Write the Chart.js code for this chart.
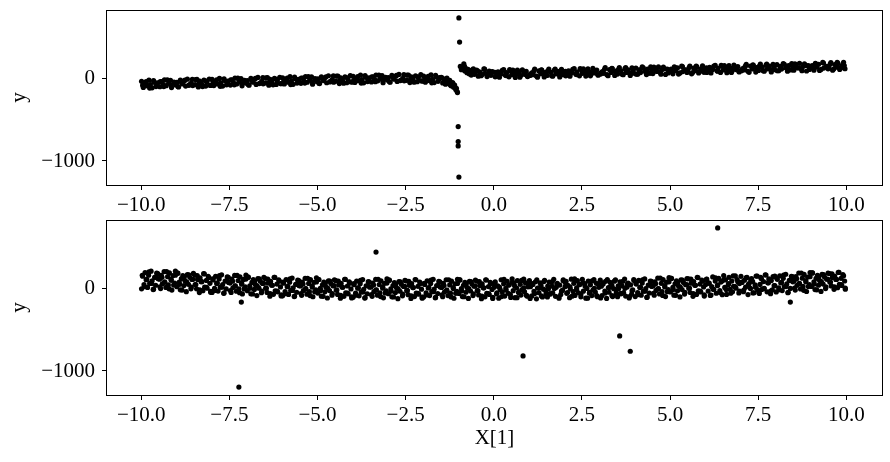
<!DOCTYPE html>
<html><head><meta charset="utf-8">
<script src="https://cdn.jsdelivr.net/npm/chart.js@4"></script>
<style>
html,body{margin:0;padding:0;background:#fff;}
#wrap{position:relative;width:890px;height:462px;overflow:hidden;}
#c1{position:absolute;left:0;top:0;}
#c2{position:absolute;left:0;top:210px;}
</style></head><body>
<div id="wrap"><canvas id="c1" width="890" height="250"></canvas><canvas id="c2" width="890" height="252"></canvas></div>
<script>
// ---------- data ----------
const xTicks = [-10, -7.5, -5, -2.5, 0, 2.5, 5, 7.5, 10];
const xTickLabels = ['\u221210.0','\u22127.5','\u22125.0','\u22122.5','0.0','2.5','5.0','7.5','10.0'];
const yTicks = [-1000, 0];
const yTickLabels = ['\u22121000', '0'];
const xTitles = ['X[0]', 'X[1]'];
const yTitle = 'y';

// top panel: y against X[0]
const topX = [
-9.99,-9.94,-9.89,-9.83,-9.78,-9.74,-9.69,-9.63,-9.58,-9.54,
-9.47,-9.42,-9.38,-9.34,-9.29,-9.22,-9.17,-9.14,-9.07,-9.02,
-8.99,-8.94,-8.89,-8.83,-8.78,-8.74,-8.69,-8.63,-8.58,-8.54,
-8.47,-8.42,-8.38,-8.34,-8.29,-8.22,-8.17,-8.14,-8.07,-8.02,
-7.99,-7.94,-7.89,-7.83,-7.78,-7.74,-7.69,-7.63,-7.58,-7.54,
-7.47,-7.42,-7.38,-7.34,-7.29,-7.22,-7.17,-7.14,-7.07,-7.02,
-6.99,-6.94,-6.89,-6.83,-6.78,-6.74,-6.69,-6.63,-6.58,-6.54,
-6.47,-6.42,-6.38,-6.34,-6.29,-6.22,-6.17,-6.14,-6.07,-6.02,
-5.99,-5.94,-5.89,-5.83,-5.78,-5.74,-5.69,-5.63,-5.58,-5.54,
-5.47,-5.42,-5.38,-5.34,-5.29,-5.22,-5.17,-5.14,-5.07,-5.02,
-4.99,-4.94,-4.89,-4.83,-4.78,-4.74,-4.69,-4.63,-4.58,-4.54,
-4.47,-4.42,-4.38,-4.34,-4.29,-4.22,-4.17,-4.14,-4.07,-4.02,
-3.99,-3.94,-3.89,-3.83,-3.78,-3.74,-3.69,-3.63,-3.58,-3.54,
-3.47,-3.42,-3.38,-3.34,-3.29,-3.22,-3.17,-3.14,-3.07,-3.02,
-2.99,-2.94,-2.89,-2.83,-2.78,-2.74,-2.69,-2.63,-2.58,-2.54,
-2.47,-2.42,-2.38,-2.34,-2.29,-2.22,-2.17,-2.14,-2.07,-2.02,
-1.99,-1.94,-1.89,-1.83,-1.78,-1.74,-1.69,-1.63,-1.58,-1.54,
-1.49,-1.45,-1.41,-1.37,-1.33,-1.29,-1.25,-1.21,-1.17,-1.14,-1.11,-1.08,-1.06,-1.04,-1.03,
-0.99,-0.97,-1.01,-1.01,-1.01,-0.99,
-0.95,-0.92,-0.88,-0.85,-0.82,-0.79,-0.76,-0.73,-0.70,-0.67,-0.64,-0.61,-0.58,-0.55,-0.52,
-0.49,-0.44,-0.39,-0.33,-0.28,-0.24,-0.19,-0.13,-0.08,-0.04,
0.03,0.08,0.12,0.16,0.21,0.28,0.33,0.36,0.43,0.48,
0.51,0.56,0.61,0.67,0.72,0.76,0.81,0.87,0.92,0.96,
1.03,1.08,1.12,1.16,1.21,1.28,1.33,1.36,1.43,1.48,
1.51,1.56,1.61,1.67,1.72,1.76,1.81,1.87,1.92,1.96,
2.03,2.08,2.12,2.16,2.21,2.28,2.33,2.36,2.43,2.48,
2.51,2.56,2.61,2.67,2.72,2.76,2.81,2.87,2.92,2.96,
3.03,3.08,3.12,3.16,3.21,3.28,3.33,3.36,3.43,3.48,
3.51,3.56,3.61,3.67,3.72,3.76,3.81,3.87,3.92,3.96,
4.03,4.08,4.12,4.16,4.21,4.28,4.33,4.36,4.43,4.48,
4.51,4.56,4.61,4.67,4.72,4.76,4.81,4.87,4.92,4.96,
5.03,5.08,5.12,5.16,5.21,5.28,5.33,5.36,5.43,5.48,
5.51,5.56,5.61,5.67,5.72,5.76,5.81,5.87,5.92,5.96,
6.03,6.08,6.12,6.16,6.21,6.28,6.33,6.36,6.43,6.48,
6.51,6.56,6.61,6.67,6.72,6.76,6.81,6.87,6.92,6.96,
7.03,7.08,7.12,7.16,7.21,7.28,7.33,7.36,7.43,7.48,
7.51,7.56,7.61,7.67,7.72,7.76,7.81,7.87,7.92,7.96,
8.03,8.08,8.12,8.16,8.21,8.28,8.33,8.36,8.43,8.48,
8.51,8.56,8.61,8.67,8.72,8.76,8.81,8.87,8.92,8.96,
9.03,9.08,9.12,9.16,9.21,9.28,9.33,9.36,9.43,9.48,
9.51,9.56,9.61,9.67,9.72,9.76,9.81,9.87,9.92,9.96
];
const topY = [
-30,-105,-55,-85,-17,-70,-110,-43,-95,-50,
-97,-34,-69,-14,-84,-54,-19,-107,-41,-74,
-42,-99,-16,-62,-26,-89,-4,-72,-51,-82,
-71,-7,-99,-29,-61,-16,-89,-41,-3,-81,
-8,-83,-33,-63,5,-48,-88,-21,-73,-28,
-76,-13,-48,7,-63,-33,2,-86,-20,-53,
-21,-78,5,-41,-5,-68,17,-51,-30,-61,
-50,14,-78,-8,-40,5,-68,-20,18,-60,
13,-62,-12,-42,26,-27,-67,0,-52,-7,
-55,8,-27,28,-42,-12,23,-65,1,-32,
-1,-58,25,-21,15,-48,37,-31,-10,-41,
-30,34,-58,12,-20,25,-48,0,38,-40,
31,-44,6,-24,44,-9,-49,18,-34,11,
-38,25,-10,45,-25,5,40,-48,18,-15,
15,-42,41,-5,31,-32,53,-15,6,-25,
-18,46,-46,24,-8,37,-36,12,50,-28,
34,-41,9,-21,47,-6,-46,21,-31,14,
17,-51,-5,-65,9,-58,-20,-85,-45,-103,-77,-130,-115,-155,-167,
740,447,-581,-764,-817,-1195,
150,110,140,183,95,125,75,115,60,100,45,90,120,55,80,
107,32,82,52,120,67,27,94,42,87,
79,34,86,19,59,112,44,74,24,99,
50,83,17,105,70,40,110,55,90,27,
40,71,50,118,33,96,60,106,23,80,
40,118,80,32,105,60,92,22,114,50,
91,46,98,31,71,124,56,86,36,111,
66,99,33,121,86,56,126,71,106,43,
57,88,67,135,50,113,77,123,40,97,
58,136,98,50,123,78,110,40,132,68,
131,56,106,76,144,91,51,118,66,111,
63,126,91,146,76,106,141,53,119,86,
118,61,144,98,134,71,156,88,109,78,
89,153,61,131,99,144,71,119,157,79,
132,87,139,72,112,165,97,127,77,152,
107,140,74,162,127,97,167,112,147,84,
99,130,109,177,92,155,119,165,82,139,
101,179,141,93,166,121,153,83,175,111,
173,98,148,118,186,133,93,160,108,153,
105,168,133,188,118,148,183,95,161,128,
161,104,187,141,177,114,199,131,152,121,
132,196,104,174,142,187,114,162,200,122
];
// more points of the same top band
const topX2 = [
-9.96,-9.86,-9.76,-9.65,-9.55, -9.46,-9.36,-9.26,-9.15,-9.05,
-8.96,-8.86,-8.76,-8.65,-8.55, -8.46,-8.36,-8.26,-8.15,-8.05,
-7.96,-7.86,-7.76,-7.65,-7.55, -7.46,-7.36,-7.26,-7.15,-7.05,
-6.96,-6.86,-6.76,-6.65,-6.55, -6.46,-6.36,-6.26,-6.15,-6.05,
-5.96,-5.86,-5.76,-5.65,-5.55, -5.46,-5.36,-5.26,-5.15,-5.05,
-4.96,-4.86,-4.76,-4.65,-4.55, -4.46,-4.36,-4.26,-4.15,-4.05,
-3.96,-3.86,-3.76,-3.65,-3.55, -3.46,-3.36,-3.26,-3.15,-3.05,
-2.96,-2.86,-2.76,-2.65,-2.55, -2.46,-2.36,-2.26,-2.15,-2.05,
-1.96,-1.86,-1.76,-1.65,-1.55, -1.47,-1.39,-1.31,-1.23,-1.16,
-0.90,-0.83,-0.77,-0.69,-0.62, -0.46,-0.36,-0.26,-0.15,-0.05,
0.04,0.14,0.24,0.35,0.45, 0.54,0.64,0.74,0.85,0.95,
1.04,1.14,1.24,1.35,1.45, 1.54,1.64,1.74,1.85,1.95,
2.04,2.14,2.24,2.35,2.45, 2.54,2.64,2.74,2.85,2.95,
3.04,3.14,3.24,3.35,3.45, 3.54,3.64,3.74,3.85,3.95,
4.04,4.14,4.24,4.35,4.45, 4.54,4.64,4.74,4.85,4.95,
5.04,5.14,5.24,5.35,5.45, 5.54,5.64,5.74,5.85,5.95,
6.04,6.14,6.24,6.35,6.45, 6.54,6.64,6.74,6.85,6.95,
7.04,7.14,7.24,7.35,7.45, 7.54,7.64,7.74,7.85,7.95,
8.04,8.14,8.24,8.35,8.45, 8.54,8.64,8.74,8.85,8.95,
9.04,9.14,9.24,9.35,9.45, 9.54,9.64,9.74,9.85,9.94
];
const topY2 = [
-77,-35,-113,-23,-65, -34,-94,-14,-79,-51,
-94,-42,-16,-79,-6, -9,-59,-94,-29,-79,
-55,-13,-91,-1,-43, -13,-73,7,-58,-30,
-73,-21,5,-58,15, 12,-38,-73,-8,-58,
-34,8,-70,20,-22, 8,-52,28,-37,-9,
-53,-1,25,-38,35, 32,-18,-53,12,-38,
-16,26,-52,38,-4, 25,-35,45,-20,8,
-37,15,41,-22,51, 44,-6,-41,24,-26,
-13,29,-49,41,-1, 11,-52,-13,-75,-55,
125,150,90,70,105, 97,37,117,52,80,
24,76,102,39,112, 105,55,20,85,35,
56,98,20,110,68, 97,37,117,52,80,
36,88,114,51,124, 121,71,36,101,51,
73,115,37,127,85, 115,55,135,70,98,
56,108,134,71,144, 141,91,56,121,71,
94,136,58,148,106, 136,76,156,91,119,
77,129,155,92,165, 162,112,77,142,92,
115,157,79,169,127, 158,98,178,113,141,
98,150,176,113,186, 183,133,98,163,113,
137,179,101,191,149, 179,119,199,134,162
];

// bottom panel: y against X[1]
const bottomX = [
-9.99,-9.96,-9.92,-9.89,-9.86,-9.82,-9.79,-9.76,-9.72,-9.69,-9.66,-9.62,-9.59,-9.56,-9.52,
-9.48,-9.45,-9.43,-9.40,-9.35,-9.33,-9.30,-9.25,-9.23,-9.20,-9.15,-9.13,-9.10,-9.05,-9.03,
-8.99,-8.96,-8.92,-8.89,-8.86,-8.82,-8.79,-8.76,-8.72,-8.69,-8.66,-8.62,-8.59,-8.56,-8.52,
-8.48,-8.45,-8.43,-8.40,-8.35,-8.33,-8.30,-8.25,-8.23,-8.20,-8.15,-8.13,-8.10,-8.05,-8.03,
-7.99,-7.96,-7.92,-7.89,-7.86,-7.82,-7.79,-7.76,-7.72,-7.69,-7.66,-7.62,-7.59,-7.56,-7.52,
-7.48,-7.45,-7.43,-7.40,-7.35,-7.33,-7.30,-7.25,-7.23,-7.20,-7.15,-7.13,-7.10,-7.05,-7.03,
-6.99,-6.96,-6.92,-6.89,-6.86,-6.82,-6.79,-6.76,-6.72,-6.69,-6.66,-6.62,-6.59,-6.56,-6.52,
-6.48,-6.45,-6.43,-6.40,-6.35,-6.33,-6.30,-6.25,-6.23,-6.20,-6.15,-6.13,-6.10,-6.05,-6.03,
-5.99,-5.96,-5.92,-5.89,-5.86,-5.82,-5.79,-5.76,-5.72,-5.69,-5.66,-5.62,-5.59,-5.56,-5.52,
-5.48,-5.45,-5.43,-5.40,-5.35,-5.33,-5.30,-5.25,-5.23,-5.20,-5.15,-5.13,-5.10,-5.05,-5.03,
-4.99,-4.96,-4.92,-4.89,-4.86,-4.82,-4.79,-4.76,-4.72,-4.69,-4.66,-4.62,-4.59,-4.56,-4.52,
-4.48,-4.45,-4.43,-4.40,-4.35,-4.33,-4.30,-4.25,-4.23,-4.20,-4.15,-4.13,-4.10,-4.05,-4.03,
-3.99,-3.96,-3.92,-3.89,-3.86,-3.82,-3.79,-3.76,-3.72,-3.69,-3.66,-3.62,-3.59,-3.56,-3.52,
-3.48,-3.45,-3.43,-3.40,-3.35,-3.33,-3.30,-3.25,-3.23,-3.20,-3.15,-3.13,-3.10,-3.05,-3.03,
-2.99,-2.96,-2.92,-2.89,-2.86,-2.82,-2.79,-2.76,-2.72,-2.69,-2.66,-2.62,-2.59,-2.56,-2.52,
-2.48,-2.45,-2.43,-2.40,-2.35,-2.33,-2.30,-2.25,-2.23,-2.20,-2.15,-2.13,-2.10,-2.05,-2.03,
-1.99,-1.96,-1.92,-1.89,-1.86,-1.82,-1.79,-1.76,-1.72,-1.69,-1.66,-1.62,-1.59,-1.56,-1.52,
-1.48,-1.45,-1.43,-1.40,-1.35,-1.33,-1.30,-1.25,-1.23,-1.20,-1.15,-1.13,-1.10,-1.05,-1.03,
-0.99,-0.96,-0.92,-0.89,-0.86,-0.82,-0.79,-0.76,-0.72,-0.69,-0.66,-0.62,-0.59,-0.56,-0.52,
-0.48,-0.45,-0.43,-0.40,-0.35,-0.33,-0.30,-0.25,-0.23,-0.20,-0.15,-0.13,-0.10,-0.05,-0.03,
0.01,0.04,0.08,0.11,0.14,0.18,0.21,0.24,0.28,0.31,0.34,0.38,0.41,0.44,0.48,
0.52,0.55,0.57,0.60,0.65,0.67,0.70,0.75,0.77,0.80,0.85,0.87,0.90,0.95,0.97,
1.01,1.04,1.08,1.11,1.14,1.18,1.21,1.24,1.28,1.31,1.34,1.38,1.41,1.44,1.48,
1.52,1.55,1.57,1.60,1.65,1.67,1.70,1.75,1.77,1.80,1.85,1.87,1.90,1.95,1.97,
2.02,2.05,2.07,2.10,2.15,2.17,2.20,2.25,2.27,2.30,2.35,2.37,2.40,2.45,2.47,
2.51,2.54,2.58,2.61,2.64,2.68,2.71,2.74,2.78,2.81,2.84,2.88,2.91,2.94,2.98,
3.02,3.05,3.07,3.10,3.15,3.17,3.20,3.25,3.27,3.30,3.35,3.37,3.40,3.45,3.47,
3.51,3.54,3.58,3.61,3.64,3.68,3.71,3.74,3.78,3.81,3.84,3.88,3.91,3.94,3.98,
4.01,4.04,4.08,4.11,4.14,4.18,4.21,4.24,4.28,4.31,4.34,4.38,4.41,4.44,4.48,
4.52,4.55,4.57,4.60,4.65,4.67,4.70,4.75,4.77,4.80,4.85,4.87,4.90,4.95,4.97,
5.01,5.04,5.08,5.11,5.14,5.18,5.21,5.24,5.28,5.31,5.34,5.38,5.41,5.44,5.48,
5.52,5.55,5.57,5.60,5.65,5.67,5.70,5.75,5.77,5.80,5.85,5.87,5.90,5.95,5.97,
6.01,6.04,6.08,6.11,6.14,6.18,6.21,6.24,6.28,6.31,6.34,6.38,6.41,6.44,6.48,
6.52,6.55,6.57,6.60,6.65,6.67,6.70,6.75,6.77,6.80,6.85,6.87,6.90,6.95,6.97,
7.01,7.04,7.08,7.11,7.14,7.18,7.21,7.24,7.28,7.31,7.34,7.38,7.41,7.44,7.48,
7.52,7.55,7.57,7.60,7.65,7.67,7.70,7.75,7.77,7.80,7.85,7.87,7.90,7.95,7.97,
8.01,8.04,8.08,8.11,8.14,8.18,8.21,8.24,8.28,8.31,8.34,8.38,8.41,8.44,8.48,
8.52,8.55,8.57,8.60,8.65,8.67,8.70,8.75,8.77,8.80,8.85,8.87,8.90,8.95,8.97,
9.01,9.04,9.08,9.11,9.14,9.18,9.21,9.24,9.28,9.31,9.34,9.38,9.41,9.44,9.48,
9.52,9.55,9.57,9.60,9.65,9.67,9.70,9.75,9.77,9.80,9.85,9.87,9.90,9.95,9.97,
-7.23,-7.16,-3.34,0.83,3.57,3.87,6.35,8.41
];
const bottomY = [
0,153,50,197,110,17,165,65,215,97,-10,140,43,190,123,
117,3,165,60,210,83,17,147,47,193,103,-15,161,70,215,
25,190,83,-13,125,160,40,97,-35,173,55,140,0,113,187,
167,52,0,114,-46,134,87,-23,184,20,102,7,152,67,-30,
-45,108,5,152,65,-28,120,20,170,52,-55,95,-2,145,78,
70,-44,118,13,163,36,-30,100,0,146,56,-62,114,23,168,
-23,142,35,-61,77,112,-8,49,-83,125,7,92,-48,65,139,
123,8,-44,70,-90,90,43,-67,140,-24,58,-37,108,23,-74,
-85,68,-35,112,25,-68,80,-20,130,12,-95,55,-42,105,38,
35,-79,83,-22,128,1,-65,65,-35,111,21,-97,79,-12,133,
-52,113,6,-90,48,83,-37,20,-112,96,-22,63,-77,36,110,
99,-16,-68,46,-114,66,19,-91,116,-48,34,-61,84,-1,-98,
-103,50,-53,94,7,-86,62,-38,112,-6,-113,37,-60,87,20,
22,-92,70,-35,115,-12,-78,52,-48,98,8,-110,66,-25,120,
-60,105,-2,-98,40,75,-45,12,-120,88,-30,55,-85,28,102,
95,-20,-72,42,-118,62,15,-95,112,-52,30,-65,80,-5,-102,
-100,53,-50,97,10,-83,65,-35,115,-3,-110,40,-57,90,23,
17,-97,65,-40,110,-17,-83,47,-53,93,3,-115,61,-30,115,
-57,108,1,-95,43,78,-42,15,-117,91,-27,58,-82,31,105,
92,-23,-75,39,-121,59,12,-98,109,-55,27,-68,77,-8,-105,
18,85,-62,35,-115,-8,110,-40,60,-88,5,92,-55,48,-105,
122,-23,68,-108,10,100,-46,54,-76,-10,117,-33,72,-90,24,
100,26,-87,53,-32,86,-122,10,-47,73,38,-100,-4,103,-62,
-99,-2,83,-62,33,-49,115,-92,18,65,-115,45,-69,-17,98,
25,92,-55,42,-108,-1,117,-33,67,-81,12,99,-48,55,-98,
116,-29,62,-114,4,94,-52,48,-82,-16,111,-39,66,-96,18,
105,31,-82,58,-27,91,-117,15,-42,78,43,-95,1,108,-57,
-96,1,86,-59,36,-46,118,-89,21,68,-112,48,-66,-14,101,
-95,58,-45,102,15,-78,70,-30,120,2,-105,45,-52,95,28,
37,-77,85,-20,130,3,-63,67,-33,113,23,-95,81,-10,135,
-39,126,19,-77,61,96,-24,33,-99,109,-9,76,-64,49,123,
122,7,-45,69,-91,89,42,-68,139,-25,57,-38,107,22,-75,
52,119,-28,69,-81,26,144,-6,94,-54,39,126,-21,82,-71,
162,17,108,-68,50,140,-6,94,-36,30,157,7,112,-50,64,
152,78,-35,105,20,138,-70,62,5,125,90,-48,48,155,-10,
-44,53,138,-7,88,6,170,-37,73,120,-60,100,-14,38,153,
-38,115,12,159,72,-21,127,27,177,59,-48,102,5,152,85,
99,-15,147,42,192,65,-1,129,29,175,85,-33,143,52,197,
28,193,86,-10,128,163,43,100,-32,176,58,143,3,116,190,
186,82,35,138,-6,156,114,14,201,53,127,41,172,95,8,
-1195,-162,447,-817,-573,-760,740,-162
];
// more points of the same bottom band
const bottomX2 = [
-9.97,-9.91,-9.84,-9.78,-9.71,-9.65,-9.58,-9.53, -9.47,-9.41,-9.34,-9.28,-9.21,-9.15,-9.08,-9.03,
-8.97,-8.91,-8.84,-8.78,-8.71,-8.65,-8.58,-8.53, -8.47,-8.41,-8.34,-8.28,-8.21,-8.15,-8.08,-8.03,
-7.97,-7.91,-7.84,-7.78,-7.71,-7.65,-7.58,-7.53, -7.47,-7.41,-7.34,-7.28,-7.21,-7.15,-7.08,-7.03,
-6.97,-6.91,-6.84,-6.78,-6.71,-6.65,-6.58,-6.53, -6.47,-6.41,-6.34,-6.28,-6.21,-6.15,-6.08,-6.03,
-5.97,-5.91,-5.84,-5.78,-5.71,-5.65,-5.58,-5.53, -5.47,-5.41,-5.34,-5.28,-5.21,-5.15,-5.08,-5.03,
-4.97,-4.91,-4.84,-4.78,-4.71,-4.65,-4.58,-4.53, -4.47,-4.41,-4.34,-4.28,-4.21,-4.15,-4.08,-4.03,
-3.97,-3.91,-3.84,-3.78,-3.71,-3.65,-3.58,-3.53, -3.47,-3.41,-3.34,-3.28,-3.21,-3.15,-3.08,-3.03,
-2.97,-2.91,-2.84,-2.78,-2.71,-2.65,-2.58,-2.53, -2.47,-2.41,-2.34,-2.28,-2.21,-2.15,-2.08,-2.03,
-1.97,-1.91,-1.84,-1.78,-1.71,-1.65,-1.58,-1.53, -1.47,-1.41,-1.34,-1.28,-1.21,-1.15,-1.08,-1.03,
-0.97,-0.91,-0.84,-0.78,-0.71,-0.65,-0.58,-0.53, -0.47,-0.41,-0.34,-0.28,-0.21,-0.15,-0.08,-0.03,
0.03,0.09,0.16,0.22,0.29,0.35,0.42,0.47, 0.53,0.59,0.66,0.72,0.79,0.85,0.92,0.97,
1.03,1.09,1.16,1.22,1.29,1.35,1.42,1.47, 1.53,1.59,1.66,1.72,1.79,1.85,1.92,1.97,
2.03,2.09,2.16,2.22,2.29,2.35,2.42,2.47, 2.53,2.59,2.66,2.72,2.79,2.85,2.92,2.97,
3.03,3.09,3.16,3.22,3.29,3.35,3.42,3.47, 3.53,3.59,3.66,3.72,3.79,3.85,3.92,3.97,
4.03,4.09,4.16,4.22,4.29,4.35,4.42,4.47, 4.53,4.59,4.66,4.72,4.79,4.85,4.92,4.97,
5.03,5.09,5.16,5.22,5.29,5.35,5.42,5.47, 5.53,5.59,5.66,5.72,5.79,5.85,5.92,5.97,
6.03,6.09,6.16,6.22,6.29,6.35,6.42,6.47, 6.53,6.59,6.66,6.72,6.79,6.85,6.92,6.97,
7.03,7.09,7.16,7.22,7.29,7.35,7.42,7.47, 7.53,7.59,7.66,7.72,7.79,7.85,7.92,7.97,
8.03,8.09,8.16,8.22,8.29,8.35,8.42,8.47, 8.53,8.59,8.66,8.72,8.79,8.85,8.92,8.97,
9.03,9.09,9.16,9.22,9.29,9.35,9.42,9.47, 9.53,9.59,9.66,9.72,9.79,9.85,9.92,9.97
];
const bottomY2 = [
165,25,115,205,65,-5,140,185, 25,140,80,210,0,115,45,165,
190,55,-15,140,85,170,20,115, 52,162,-13,87,182,17,137,-43,
120,-20,70,160,20,-50,95,140, -22,93,33,163,-47,68,-2,118,
142,7,-63,92,37,122,-28,67, 8,118,-57,43,138,-27,93,-87,
80,-60,30,120,-20,-90,55,100, -57,58,-2,128,-82,33,-37,83,
113,-22,-92,63,8,93,-57,38, -16,94,-81,19,114,-51,69,-111,
62,-78,12,102,-38,-108,37,82, -70,45,-15,115,-95,20,-50,70,
105,-30,-100,55,0,85,-65,30, -20,90,-85,15,110,-55,65,-115,
65,-75,15,105,-35,-105,40,85, -75,40,-20,110,-100,15,-55,65,
108,-27,-97,58,3,88,-62,33, -23,87,-88,12,107,-58,62,-118,
70,-50,20,-95,115,-15,45,-70, 82,37,-108,-38,102,12,-78,62,
-117,63,-57,108,13,-87,88,-22, 33,-62,88,3,58,-97,-27,108,
75,-45,25,-90,120,-10,50,-65, 76,31,-114,-44,96,6,-84,56,
-112,68,-52,113,18,-82,93,-17, 36,-59,91,6,61,-94,-24,111,
70,-70,20,110,-30,-100,45,90, -55,60,0,130,-80,35,-35,85,
126,-9,-79,76,21,106,-44,51, 7,117,-58,42,137,-28,92,-88,
114,69,-76,-6,134,44,-46,94, 112,-8,62,-53,157,27,87,-28,
80,-15,135,50,105,-50,20,155, -57,123,3,168,73,-27,148,38,
127,-13,77,167,27,-43,102,147, 7,122,62,192,-18,97,27,147,
193,58,-12,143,88,173,23,118, 82,181,23,114,199,50,159,-4
];

// ---------- chart ----------
const FONT = "'Liberation Serif', 'DejaVu Serif', serif";
const FS = 21;

const framePlugin = {
  id: 'frame',
  beforeDatasetsDraw(chart) {
    const a = chart.chartArea, c = chart.ctx;
    c.save(); c.fillStyle = '#fff';
    c.fillRect(a.left, a.top, a.right - a.left, a.bottom - a.top);
    c.restore();
  },
  afterDatasetsDraw(chart) {
    const a = chart.chartArea, c = chart.ctx;
    c.save(); c.strokeStyle = '#000'; c.lineWidth = 1;
    c.strokeRect(Math.round(a.left) - 0.5, Math.round(a.top) + 0.5,
                 Math.round(a.right - a.left) + 1, Math.round(a.bottom - a.top));
    c.restore();
  }
};

function makeChart(id, xs, ys, xTitle, axisH, titlePad) {
  const pts = xs.map((x, i) => ({ x: x, y: ys[i] }));
  return new Chart(document.getElementById(id), {
    type: 'scatter',
    data: { datasets: [{ data: pts, backgroundColor: '#000', borderWidth: 0,
                         pointRadius: 2.6, pointHoverRadius: 2.6 }] },
    options: {
      responsive: false, animation: false, devicePixelRatio: 1, events: [],
      layout: { padding: { left: 0, right: 8, top: 10, bottom: 0 } },
      plugins: { legend: { display: false }, tooltip: { enabled: false } },
      scales: {
        x: {
          type: 'linear', bounds: 'data', min: -10.97, max: 11.01,
          afterBuildTicks: s => { s.ticks = xTicks.map(v => ({ value: v })); },
          afterFit: s => { s.height = axisH; s.paddingLeft = 0; s.paddingRight = 0; s.paddingTop = 0; s.paddingBottom = 0; },
          ticks: { callback: (v, i) => xTickLabels[i], font: { family: FONT, size: FS },
                   color: '#000', padding: 3, maxRotation: 0, autoSkip: false },
          grid: { drawOnChartArea: false, drawTicks: true, tickLength: 5, color: '#000', lineWidth: 1 },
          border: { display: false },
          title: { display: true, text: xTitle, color: '#000', font: { family: FONT, size: FS },
                   padding: { top: 0, bottom: titlePad } }
        },
        y: {
          type: 'linear', bounds: 'data', min: -1292, max: 837,
          afterBuildTicks: s => { s.ticks = yTicks.map(v => ({ value: v })); },
          afterFit: s => { s.width = 107; s.paddingTop = 0; s.paddingBottom = 0; s.paddingLeft = 0; s.paddingRight = 0; },
          ticks: { callback: (v, i) => yTickLabels[i], font: { family: FONT, size: FS },
                   color: '#000', padding: 7 },
          grid: { drawOnChartArea: false, drawTicks: true, tickLength: 5, color: '#000', lineWidth: 1 },
          border: { display: false },
          title: { display: true, text: yTitle, color: '#000', font: { family: FONT, size: FS },
                   padding: { top: 7, bottom: 0 } }
        }
      }
    },
    plugins: [framePlugin]
  });
}

makeChart('c1', topX.concat(topX2), topY.concat(topY2), xTitles[0], 65, 9);
makeChart('c2', bottomX.concat(bottomX2), bottomY.concat(bottomY2), xTitles[1], 67, 11);
</script>
</body></html>
